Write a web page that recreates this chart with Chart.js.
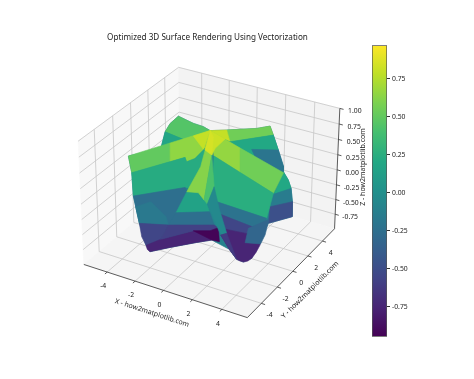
<!DOCTYPE html>
<html>
<head>
<meta charset="utf-8">
<script src="https://cdn.jsdelivr.net/npm/chart.js@4"></script>
<style>
  body { margin: 0; background: #fff; }
  #scene { position: absolute; left: 0; top: 0; }
  #colorbar { position: absolute; left: 356px; top: 0; }
</style>
</head>
<body>
<canvas id="scene" width="474" height="379"></canvas>
<canvas id="colorbar" width="118" height="379"></canvas>
<script>
// Chart data
var titleText = "Optimized 3D Surface Rendering Using Vectorization";
var xLabel = "X - how2matplotlib.com";
var yLabel = "Y - how2matplotlib.com";
var zLabel = "Z - how2matplotlib.com";
var xTicks = [-4, -2, 0, 2, 4];
var yTicks = [-4, -2, 0, 2, 4];
var zTicks = [-0.75, -0.5, -0.25, 0, 0.25, 0.5, 0.75, 1];
var colorTicks = [-0.75, -0.5, -0.25, 0, 0.25, 0.5, 0.75];
var colorRange = [-0.947, 0.97];
var viridis = ["#440154", "#482475", "#414487", "#355f8d", "#2a788e", "#21918c", "#22a884", "#44bf70", "#7ad151", "#bddf26", "#fde725"];

// surface mesh vertices
var surfaceX = [0.16,-4.11,-3.55,-1.76,-1.28,-2.17,-2.27,-1.40,-1.17,-0.12,-1.15,-3.31,-1.38,-3.04,-3.50,-2.43,-1.86,-2.06,-2.47,-2.68,-1.87,-0.74,-0.07,-0.30,-1.20,-0.03,0.44,0.15,0.80,1.12,1.20,-0.46,0.80,-1.60,0.30,0.10,0.16,1.15,0.08,0.31,0.88,1.33,1.43,1.21,1.19,2.58,1.81,1.77,2.11,-0.24,4.37,5.00,4.84,1.00,3.53,0.47,3.30,3.14,3.19,3.16,2.86,3.29,3.87,4.19,4.12,3.25,3.96,4.35,4.63,4.06,4.61,3.72,4.29,3.40,0.54,1.24,1.62,1.61,-0.30,1.71,0.22,1.15,2.07,2.33,0.16,-4.17,-2.24,-0.89,-2.81,-4.44,-4.32,-2.61,-4.37,2.69,3.10,3.22,-2.89,-2.85,0.82,0.11,-1.01,-0.44];
var surfaceY = [-0.43,-2.83,-3.37,-0.15,1.44,-1.19,-1.07,-0.57,0.04,-0.96,-1.19,-3.63,-2.50,-3.46,-3.11,-3.06,-2.29,-2.63,-3.66,-2.90,-1.86,-0.54,0.17,0.35,-0.17,0.92,0.23,-3.16,-2.92,-2.49,-2.31,-3.41,-1.06,-2.45,-1.79,-0.41,-0.23,-2.86,-0.90,-0.30,-1.20,-1.38,-0.61,-0.96,-2.54,-1.41,-0.94,0.36,-0.23,0.74,1.03,-1.43,-1.91,-1.69,-0.16,0.24,-0.20,0.73,0.43,-0.56,-1.06,-1.28,0.25,-0.83,-1.25,-1.59,1.81,1.73,1.58,0.47,1.84,0.64,2.49,1.07,0.90,3.40,4.43,4.91,2.81,5.44,4.68,3.63,5.48,4.99,-0.05,3.09,1.68,0.57,1.61,1.92,2.34,1.46,1.27,-1.18,-0.95,-0.13,-2.87,-3.53,0.21,0.26,-0.41,-0.20];
var surfaceZ = [0.96,0.55,0.38,0.38,0.38,0.7,0.38,0.38,0.38,0.05,0.05,0.05,-0.4,-0.4,-0.2,-0.05,-0.35,-0.7,-0.7,-0.92,-0.92,-0.92,-0.92,-0.8,-0.8,-0.8,-0.92,0.3,0.3,0.1,-0.05,-0.05,-0.45,-0.45,0.55,0.9,0.55,0.2,0.7,0.85,0.2,-0.1,-0.6,-0.6,0.1,-0.85,-0.8,0.7,0.4,0.4,0.4,0.4,0.05,0.05,-0.45,-0.45,-0.7,-0.7,-0.8,-0.9,-0.92,-0.3,-0.3,-0.4,-0.5,-0.5,0.3,0.2,0.1,0.1,-0.15,-0.15,-0.5,-0.5,0.85,0.65,0.6,0.4,0.4,0.1,0.1,0.1,-0.15,-0.2,0.85,0.55,0.7,0.85,0.4,0.4,0.5,0.1,0.2,-0.9,-0.9,-0.85,-0.9,-0.6,0.8,0.6,0.8,0.6];

// facets back to front: vertex numbers and the value that sets the colour
var facetVertices = [
  [85,86,87,0,74,75,76,77,79,82,66,67,68,70,72,73,59,60,45,46,22,21,20,19,18,13,14,11,2,1,92,89,90],
  [85,86,87,0,88,89,90], [89,88,91,92],
  [74,75,76,77,78], [0,74,78,84], [84,78,77,79,80,81], [80,79,82,83,81],
  [66,67,68,69], [69,68,70,71], [71,70,72,73],
  [1,5,6,2], [5,0,4,8,7,3,6], [0,100,101], [2,3,7,8,4,9,10,11], [11,10,27,31,33,13], [14,15,16,33,13], [13,33,17,18,97],
  [18,17,24,23,22,21,20,19,96],
  [27,28,29,30,31], [31,30,32,33], [33,32,25,23,24,17], [24,23,25,26,22],
  [0,47,48,49], [0,98,99,36], [47,50,51,48], [49,48,51,52,53], [53,52,54,55], [55,54,57,25],
  [25,57,58,95,59,94,60,93,45,46,43], [61,62,63,64,65],
  [27,34,35,36,37,28], [38,0,39,36], [36,40,44,37], [40,41,42,43,44], [43,42,45,46]
];
var facetValues = [
  -0.1,
  0.45, 0.18,
  0.55, 0.8, 0.2, -0.2,
  0.2, -0.15, -0.48,
  0.5, 0.65, 0.8, 0.23, -0.25, -0.17, -0.55,
  -0.75,
  0.15, -0.25, -0.58, -0.93,
  0.66, 0.82, 0.55, 0.25, -0.22, -0.55,
  -0.75, -0.32,
  0.62, 0.85, 0.42, -0.05, -0.62
];

var xyLimit = 5.7;
var zLimit = 1;

// same camera as mplot3d: elev 30, azim -60, dist 10, box 4:4:3
function project(x, y, z) {
  var X = 0.5714 * x / xyLimit;
  var Y = 0.5714 * y / xyLimit;
  var Z = 0.4286 * z / zLimit;
  var d = 10 - (0.433 * X - 0.75 * Y + 0.5 * Z);
  return {
    x: 211.4 + 1640 * (0.866 * X + 0.5 * Y) / d,
    y: 186.7 - 1640 * (-0.25 * X + 0.433 * Y + 0.866 * Z) / d
  };
}

function hexToRgb(h) {
  return [parseInt(h.slice(1, 3), 16), parseInt(h.slice(3, 5), 16), parseInt(h.slice(5, 7), 16)];
}

function colorFor(value) {
  var t = (value - colorRange[0]) / (colorRange[1] - colorRange[0]);
  t = Math.max(0, Math.min(1, t)) * (viridis.length - 1);
  var i = Math.min(Math.floor(t), viridis.length - 2);
  var a = hexToRgb(viridis[i]), b = hexToRgb(viridis[i + 1]);
  var c = a.map((v, k) => Math.round(v + (b[k] - v) * (t - i)));
  return "rgb(" + c.join(",") + ")";
}

var datasets = [];

function addShape(points, fillColor) {
  datasets.push({
    data: points.concat([points[0]]),
    showLine: true, pointRadius: 0, tension: 0,
    fill: "shape", backgroundColor: fillColor,
    borderColor: fillColor, borderWidth: 0.6
  });
}

function addLine(points, color, width) {
  datasets.push({
    data: points, showLine: true, pointRadius: 0, tension: 0,
    fill: false, borderColor: color, borderWidth: width
  });
}

// panes
var L = xyLimit, H = zLimit;
addShape([project(-L,-L,-H), project(-L,L,-H), project(-L,L,H), project(-L,-L,H)], "#f8f8f8");
addShape([project(-L,L,-H), project(L,L,-H), project(L,L,H), project(-L,L,H)], "#f3f3f3");
addShape([project(-L,-L,-H), project(L,-L,-H), project(L,L,-H), project(-L,L,-H)], "#f5f5f5");

// grid lines
var gridColor = "#c6c6c6";
xTicks.forEach(v => addLine([project(v,-L,-H), project(v,L,-H), project(v,L,H)], gridColor, 0.8));
yTicks.forEach(v => addLine([project(-L,v,H), project(-L,v,-H), project(L,v,-H)], gridColor, 0.8));
zTicks.forEach(v => addLine([project(-L,-L,v), project(-L,L,v), project(L,L,v)], gridColor, 0.8));

// axis lines and tick marks
var axisColor = "#333333";
addLine([project(-L,-L,-H), project(L,-L,-H)], axisColor, 0.8);
addLine([project(L,-L,-H), project(L,L,-H)], axisColor, 0.8);
addLine([project(L,L,-H), project(L,L,H)], axisColor, 0.8);
xTicks.forEach(v => addLine([project(v,-L,-H), project(v,-L-0.25,-H)], axisColor, 0.8));
yTicks.forEach(v => addLine([project(L,v,-H), project(L+0.25,v,-H)], axisColor, 0.8));
zTicks.forEach(v => addLine([project(L,L,v), project(L+0.25,L,v)], axisColor, 0.8));

// surface
facetVertices.forEach((verts, i) => {
  var pts = verts.map(n => project(surfaceX[n], surfaceY[n], surfaceZ[n]));
  addShape(pts, colorFor(facetValues[i]));
});

// first dataset in the list has to paint first
datasets.forEach((d, i) => { d.order = datasets.length - i; });

function fmt(v) {
  return v.toFixed(2);
}

var sceneText = {
  id: "sceneText",
  afterDraw(chart) {
    var ctx = chart.ctx;
    ctx.save();
    ctx.fillStyle = "#222";
    ctx.textAlign = "center";
    ctx.textBaseline = "middle";

    ctx.font = '8.15px "Noto Sans"';
    ctx.fillText(titleText, 207.5, 37.5);

    ctx.font = '6.8px "Noto Sans"';
    xTicks.forEach(v => {
      var p = project(v, -L, -H);
      ctx.fillText(String(v), p.x - 4, p.y + 14.4);
    });
    yTicks.forEach(v => {
      var p = project(L, v, -H);
      ctx.fillText(String(v), p.x + 8.3, p.y + 12);
    });
    zTicks.forEach(v => {
      var p = project(L, L, v);
      ctx.fillText(fmt(v), p.x + 15, p.y + 3);
    });

    ctx.font = '7px "Noto Sans"';
    [[xLabel, 152, 313, 18], [yLabel, 310, 290, -45], [zLabel, 363, 167, -90]].forEach(t => {
      ctx.save();
      ctx.translate(t[1], t[2]);
      ctx.rotate(t[3] * Math.PI / 180);
      ctx.fillText(t[0], 0, 0);
      ctx.restore();
    });
    ctx.restore();
  }
};

new Chart("scene", {
  type: "scatter",
  data: { datasets: datasets },
  options: {
    responsive: false,
    animation: false,
    events: [],
    layout: { padding: 0 },
    plugins: { legend: { display: false }, tooltip: { enabled: false } },
    scales: {
      x: { type: "linear", display: false, min: 0, max: 474 },
      y: { type: "linear", display: false, min: 0, max: 379, reverse: true }
    }
  },
  plugins: [sceneText]
});

// colorbar, a single floating bar on its own value axis
new Chart("colorbar", {
  type: "bar",
  data: {
    labels: [""],
    datasets: [{
      data: [colorRange],
      barPercentage: 1,
      categoryPercentage: 1,
      borderColor: "#555",
      borderWidth: 1,
      borderSkipped: false,
      backgroundColor(c) {
        var area = c.chart.chartArea;
        if (!area) return viridis[0];
        var g = c.chart.ctx.createLinearGradient(0, area.bottom, 0, area.top);
        viridis.forEach((col, i) => g.addColorStop(i / (viridis.length - 1), col));
        return g;
      }
    }]
  },
  options: {
    responsive: false,
    animation: false,
    events: [],
    layout: { padding: { left: 16, right: 57, top: 45.3, bottom: 42.3 } },
    plugins: { legend: { display: false }, tooltip: { enabled: false } },
    scales: {
      x: { display: false },
      y: {
        position: "right",
        min: colorRange[0],
        max: colorRange[1],
        afterFit(s) { s.width = 30; },
        afterBuildTicks(s) { s.ticks = colorTicks.map(v => ({ value: v })); },
        border: { display: false },
        grid: { drawOnChartArea: false, drawTicks: true, tickLength: 3, tickColor: "#333" },
        ticks: {
          autoSkip: false,
          padding: 2,
          color: "#222",
          font: { family: "Noto Sans", size: 6.8 },
          callback: v => fmt(v)
        }
      }
    }
  }
});
</script>
</body>
</html>
